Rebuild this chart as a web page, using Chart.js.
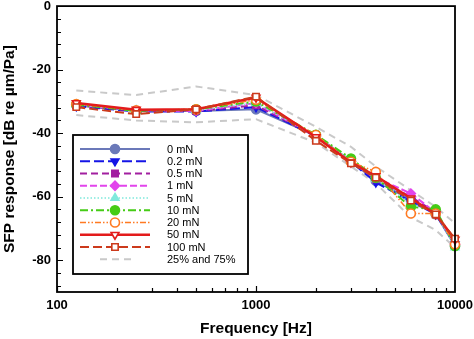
<!DOCTYPE html>
<html>
<head>
<meta charset="utf-8">
<script src="https://cdn.jsdelivr.net/npm/chart.js@4.4.0/dist/chart.umd.min.js"></script>
<style>
  html, body { margin: 0; padding: 0; background: #fff; }
  #wrap { width: 474px; height: 339px; }
</style>
</head>
<body>
<div id="wrap"><canvas id="sfp" width="474" height="339"></canvas></div>
<script>
// frequencies (Hz) and SFP response per static force (dB re um/Pa)
const freqs  = [125, 250, 500, 1000, 2000, 3000, 4000, 6000, 8000, 10000];
const f0     = [-31.2, -33.0, -33.0, -32.5, -40.8, -48.8, -55.0, -61.0, -65.5, -75.5];
const f02    = [-31.5, -33.2, -33.2, -31.8, -41.0, -49.0, -55.5, -61.5, -65.5, -75.0];
const f05    = [-31.2, -33.0, -33.0, -31.2, -41.0, -49.0, -54.5, -60.0, -65.0, -74.5];
const f1     = [-31.0, -32.8, -33.0, -30.5, -41.0, -49.0, -54.0, -59.0, -65.0, -75.0];
const f5     = [-31.0, -32.8, -32.8, -30.5, -41.0, -48.5, -54.5, -62.0, -65.0, -76.0];
const f10    = [-31.0, -33.0, -32.5, -30.0, -40.5, -48.0, -54.0, -63.2, -64.0, -75.5];
const f20    = [-30.8, -32.8, -32.5, -29.5, -40.6, -49.0, -52.2, -65.3, -65.3, -75.0];
const f50    = [-30.5, -32.6, -32.5, -28.8, -41.2, -49.2, -53.5, -60.5, -65.5, -73.5];
const f100   = [-31.8, -34.0, -32.5, -28.5, -42.4, -49.5, -54.0, -61.2, -65.6, -73.2];
const q75    = [-26.6, -28.0, -25.3, -28.0, -38.0, -44.3, -50.5, -58.0, -63.2, -68.4];
const q25    = [-34.3, -36.0, -36.6, -35.6, -43.0, -50.5, -55.8, -66.5, -70.5, -76.0];

const seriesNames = ['0 mN', '0.2 mN', '0.5 mN', '1 mN', '5 mN', '10 mN', '20 mN', '50 mN', '100 mN'];
const seriesData  = [f0, f02, f05, f1, f5, f10, f20, f50, f100];
const xTickVals = [100, 1000, 10000];
const yTickVals = [-80, -60, -40, -20, 0];

// line / marker look for each force
const looks = [
  { color: '#6b79b9', dash: [],                     width: 2,   point: 'circle',   rot: 0,   open: false },
  { color: '#1414e6', dash: [10, 4],                width: 2,   point: 'triangle', rot: 180, open: false },
  { color: '#a21fa0', dash: [7, 4],                 width: 2,   point: 'rect',     rot: 0,   open: false },
  { color: '#e244ec', dash: [7, 3],                 width: 2,   point: 'rectRot',  rot: 0,   open: false },
  { color: '#7fe9dc', dash: [1.5, 2],               width: 1.5, point: 'triangle', rot: 0,   open: false },
  { color: '#45cc16', dash: [8, 3, 2, 3],           width: 2,   point: 'circle',   rot: 0,   open: false },
  { color: '#ff7a22', dash: [6, 2, 1.5, 2, 1.5, 2], width: 1.5, point: 'circle',   rot: 0,   open: true },
  { color: '#e31b1b', dash: [],                     width: 2.5, point: 'triangle', rot: 180, open: true },
  { color: '#cc3a1c', dash: [9, 4],                 width: 2,   point: 'rect',     rot: 0,   open: true }
];

const pairs = ys => freqs.map((f, i) => ({ x: f, y: ys[i] }));

const datasets = seriesNames.map((name, i) => {
  const lk = looks[i];
  return {
    label: name,
    data: pairs(seriesData[i]),
    borderColor: lk.color,
    borderWidth: lk.width,
    borderDash: lk.dash,
    pointStyle: lk.point,
    pointRotation: lk.rot,
    pointRadius: 4.5,
    pointBorderWidth: 1.6,
    pointBorderColor: lk.color,
    pointBackgroundColor: lk.open ? '#ffffff' : lk.color,
    tension: 0,
    clip: false,
    order: 20 - i   // later forces drawn on top
  };
});
// quartile band edges, drawn underneath everything
datasets.push(
  { label: '25% and 75%', data: pairs(q75), borderColor: '#c9c9c9', borderWidth: 2,
    borderDash: [7, 5], pointRadius: 0, tension: 0, clip: false, order: 50 },
  { label: '25%', data: pairs(q25), borderColor: '#c9c9c9', borderWidth: 2,
    borderDash: [7, 5], pointRadius: 0, tension: 0, clip: false, order: 51 }
);

// box frame plus inward tick marks
const frameTicks = {
  id: 'frameTicks',
  afterDatasetsDraw(chart) {
    const { ctx, chartArea: a, scales: { x, y } } = chart;
    ctx.save();
    ctx.strokeStyle = '#000';
    ctx.lineWidth = 1.2;
    ctx.beginPath();
    for (let dec = 100; dec < 10000; dec *= 10) {
      for (let k = 1; k <= 9; k++) {
        const px = Math.round(x.getPixelForValue(dec * k)) + 0.5;
        const len = k === 1 ? 6 : 4;
        ctx.moveTo(px, a.bottom);
        ctx.lineTo(px, a.bottom - len);
      }
    }
    for (let v = -88; v <= 0; v += 4) {
      const py = Math.round(y.getPixelForValue(v)) + 0.5;
      const len = v % 20 === 0 ? 6 : 4;
      ctx.moveTo(a.left, py);
      ctx.lineTo(a.left + len, py);
    }
    ctx.stroke();
    ctx.lineWidth = 1.8;
    ctx.strokeRect(a.left, a.top, a.right - a.left, a.bottom - a.top);
    ctx.restore();
  }
};

// boxed legend inside the plot, lower left
const boxLegend = {
  id: 'boxLegend',
  afterDraw(chart) {
    const { ctx } = chart;
    const bx = 73, by = 135, bw = 175, bh = 139;
    const rowY0 = 149, rowStep = 12.25;
    ctx.save();
    ctx.fillStyle = '#fff';
    ctx.fillRect(bx, by, bw, bh);
    ctx.strokeStyle = '#000';
    ctx.lineWidth = 1.8;
    ctx.strokeRect(bx, by, bw, bh);
    ctx.font = '11px "Liberation Sans", Arial, sans-serif';
    ctx.textBaseline = 'middle';
    const ds = chart.data.datasets;
    for (let i = 0; i < 10; i++) {
      const d = ds[i];
      const ry = rowY0 + i * rowStep;
      const grey = i === 9;
      ctx.strokeStyle = d.borderColor;
      ctx.lineWidth = d.borderWidth;
      ctx.setLineDash(d.borderDash || []);
      ctx.beginPath();
      ctx.moveTo(grey ? 100 : 80, ry);
      ctx.lineTo(grey ? 131 : 150, ry);
      ctx.stroke();
      ctx.setLineDash([]);
      if (!grey) {
        ctx.fillStyle = d.pointBackgroundColor;
        ctx.strokeStyle = d.pointBorderColor;
        ctx.lineWidth = d.pointBorderWidth;
        Chart.helpers.drawPoint(ctx, {
          pointStyle: d.pointStyle, rotation: d.pointRotation,
          radius: d.pointRadius, borderWidth: d.pointBorderWidth
        }, 115, ry);
      }
      ctx.fillStyle = '#000';
      ctx.fillText(d.label, 167, ry + 0.5);
    }
    ctx.restore();
  }
};

const boldFont = size => ({ family: '"Liberation Sans", Arial, sans-serif', size: size, weight: 'bold' });

new Chart(document.getElementById('sfp'), {
  type: 'line',
  data: { datasets },
  options: {
    responsive: false,
    animation: false,
    devicePixelRatio: 1,
    layout: { padding: { left: 0, right: 19, top: 6, bottom: 0 } },
    plugins: { legend: { display: false }, tooltip: { enabled: false } },
    scales: {
      x: {
        type: 'logarithmic',
        min: 100, max: 10000,
        grid: { display: false, drawTicks: false },
        border: { display: false },
        afterBuildTicks: s => { s.ticks = xTickVals.map(v => ({ value: v })); },
        ticks: { color: '#000', font: boldFont(13), padding: 6, maxRotation: 0,
                 callback: v => String(v) },
        title: { display: true, text: 'Frequency [Hz]', color: '#000', font: boldFont(15.5),
                 padding: { top: 0, bottom: 1 } },
        afterFit: s => { s.height = 47; s.paddingLeft = 0; s.paddingRight = 0; }
      },
      y: {
        min: -90, max: 0,
        grid: { display: false, drawTicks: false },
        border: { display: false },
        afterBuildTicks: s => { s.ticks = yTickVals.map(v => ({ value: v })); },
        ticks: { color: '#000', font: boldFont(13), padding: 6 },
        title: { display: true, text: 'SFP response [dB re µm/Pa]', color: '#000', font: boldFont(15.5),
                 padding: { top: 0, bottom: 0 } },
        afterFit: s => { s.width = 57; s.paddingTop = 0; s.paddingBottom = 0; }
      }
    }
  },
  plugins: [frameTicks, boxLegend]
});
</script>
</body>
</html>
